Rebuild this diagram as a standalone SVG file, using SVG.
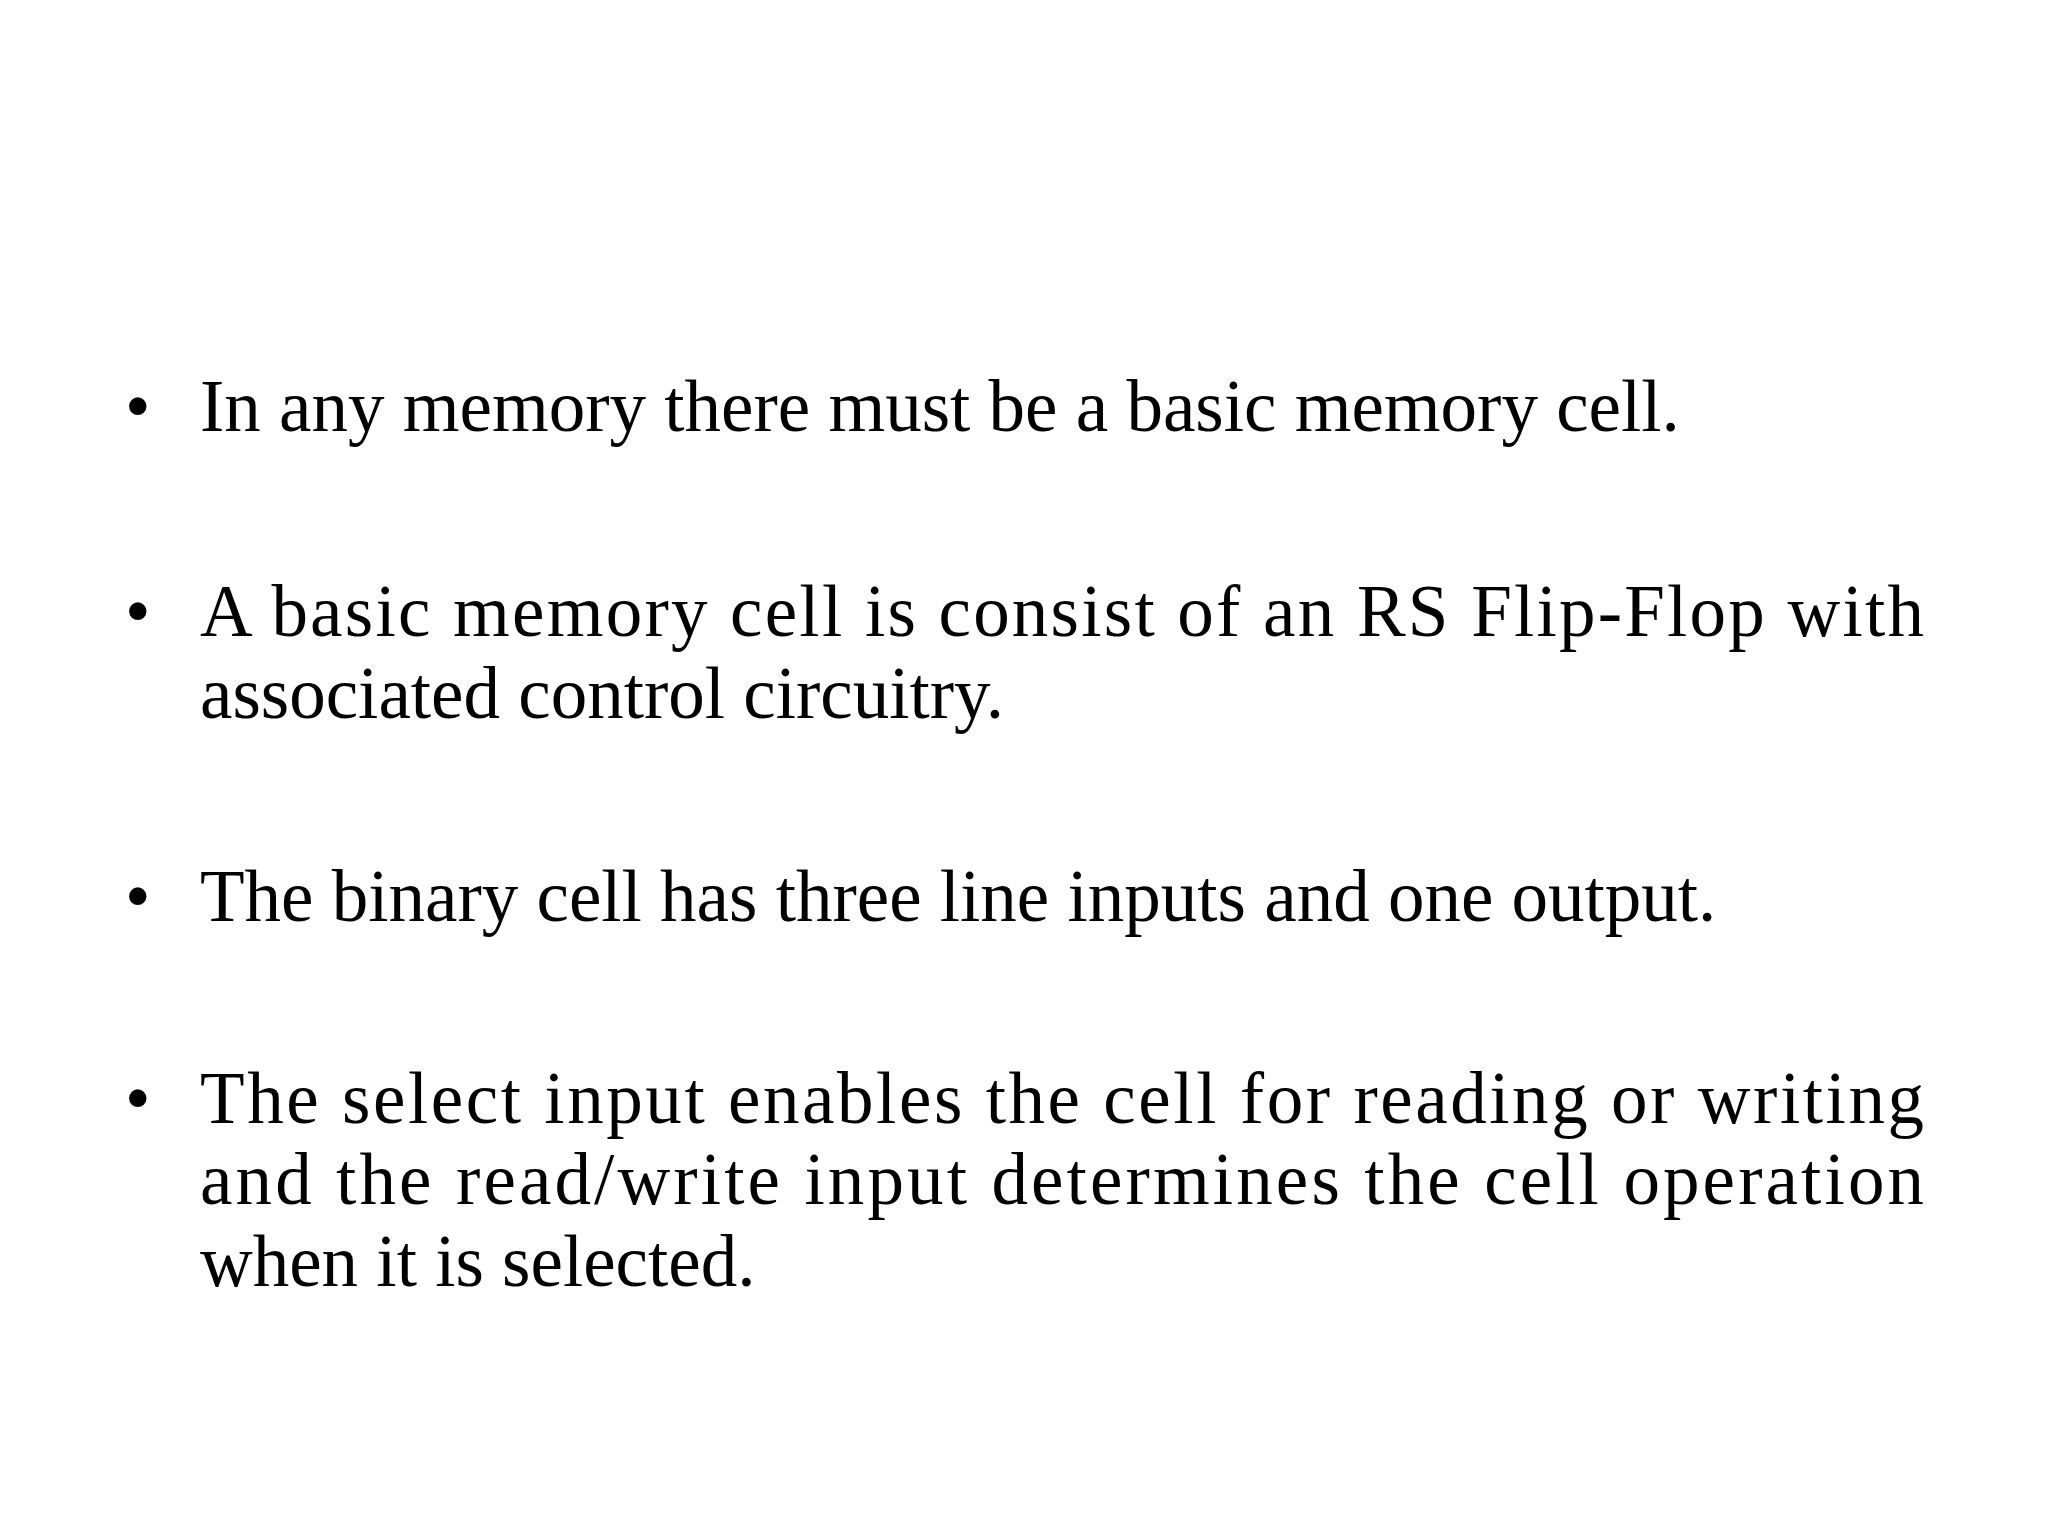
<svg xmlns="http://www.w3.org/2000/svg" width="2048" height="1536" viewBox="0 0 2048 1536">
<style>
text{font-family:"Liberation Serif","Times New Roman",serif;font-size:73px;fill:#000}
</style>
<rect width="2048" height="1536" fill="#fff"/>
<g id="bullet1"><text x="125" y="431">•</text><text x="200" y="431">In any memory there must be a basic memory cell.</text></g>
<g id="bullet2"><text x="125" y="636">•</text><text x="200" y="636" textLength="1724" lengthAdjust="spacing">A basic memory cell is consist of an RS Flip-Flop with</text><text x="200" y="718">associated control circuitry.</text></g>
<g id="bullet3"><text x="125" y="921">•</text><text x="200" y="921">The binary cell has three line inputs and one output.</text></g>
<g id="bullet4"><text x="125" y="1123">•</text><text x="200" y="1123" textLength="1724" lengthAdjust="spacing">The select input enables the cell for reading or writing</text><text x="200" y="1204" textLength="1724" lengthAdjust="spacing">and the read/write input determines the cell operation</text><text x="200" y="1286">when it is selected.</text></g>
</svg>
